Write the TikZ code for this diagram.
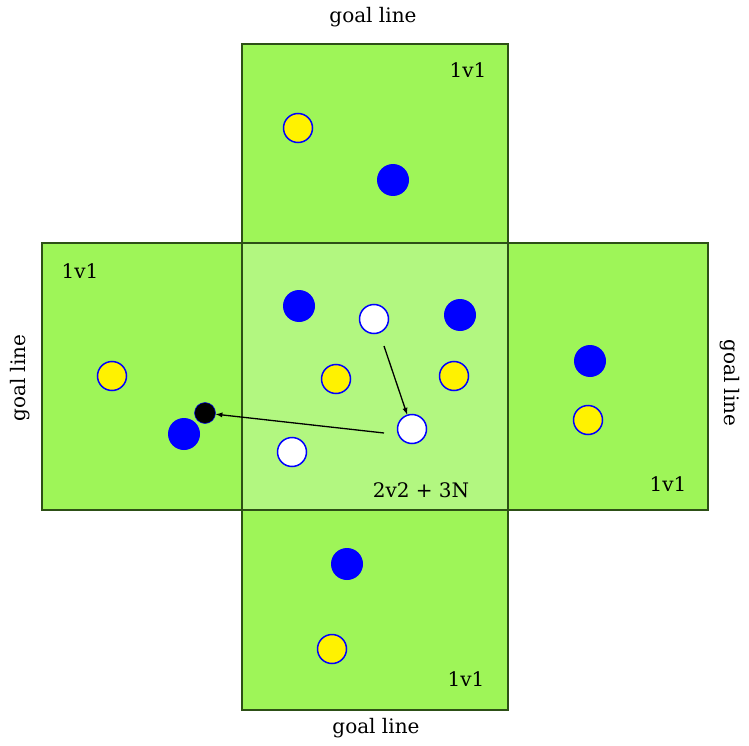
\documentclass[tikz,border=0pt]{standalone}
\usepackage{fontspec}
\setmainfont{DejaVu Serif}
\begin{document}
\begin{tikzpicture}[x=1pt,y=-1pt,
  field/.style={draw=black!50!green!60!black, line width=1.2pt, fill=fieldgreen},
  yel/.style={circle, draw=blue, line width=1.5pt, fill=yellow, minimum size=29pt, inner sep=0pt},
  blu/.style={circle, fill=blue, minimum size=32pt, inner sep=0pt},
  wht/.style={circle, draw=blue, line width=1.5pt, fill=white, minimum size=29pt, inner sep=0pt},
  blk/.style={circle, fill=black, draw=blue, line width=0.5pt, minimum size=21pt, inner sep=0pt},
  lbl/.style={font=\fontsize{20}{24}\selectfont},
  arr/.style={-latex, line width=1.3pt}]
\definecolor{fieldgreen}{RGB}{158,245,88}
\definecolor{centergreen}{RGB}{178,247,128}
\definecolor{edgegreen}{RGB}{45,80,22}
\useasboundingbox (0,0) rectangle (749,746);
\tikzset{field/.style={draw=edgegreen, line width=1.2pt, fill=fieldgreen}}
\draw[field] (242,44) rectangle (508,243);
\draw[field] (42,243) rectangle (242,510);
\draw[field] (508,243) rectangle (708,510);
\draw[field] (242,510) rectangle (508,710);
\draw[field, fill=centergreen] (242,243) rectangle (508,510);
\node[lbl] (gt) at (373,17) {goal line};
\node[lbl] (gb) at (376,728) {goal line};
\node[lbl, rotate=90] (gl) at (20,378) {goal line};
\node[lbl, rotate=-90] (gr) at (730,383) {goal line};
\node[lbl] (l1) at (468,70) {1v1};
\node[lbl] (l2) at (80,271) {1v1};
\node[lbl] (l3) at (668,484) {1v1};
\node[lbl] (l4) at (466,679) {1v1};
\node[lbl] (l5) at (421,490) {2v2 + 3N};
\node[yel] (y1) at (298,128) {};
\node[blu] (b1) at (393,180) {};
\node[yel] (y2) at (112,376) {};
\node[blu] (b2) at (184,434) {};
\node[blk] (ball) at (205,413) {};
\node[blu] (b3) at (299,306) {};
\node[wht] (w1) at (374,319) {};
\node[blu] (b4) at (460,315) {};
\node[yel] (y3) at (336,379) {};
\node[yel] (y4) at (454,376) {};
\node[wht] (w2) at (412,429) {};
\node[wht] (w3) at (292,452) {};
\node[blu] (b5) at (590,361) {};
\node[yel] (y5) at (588,420) {};
\node[blu] (b6) at (347,564) {};
\node[yel] (y6) at (332,649) {};
\coordinate (a1) at (384,346);
\coordinate (a2) at (384,433);
\draw[arr] (a1) -- (w2);
\draw[arr] (a2) -- (ball);
\end{tikzpicture}
\end{document}
